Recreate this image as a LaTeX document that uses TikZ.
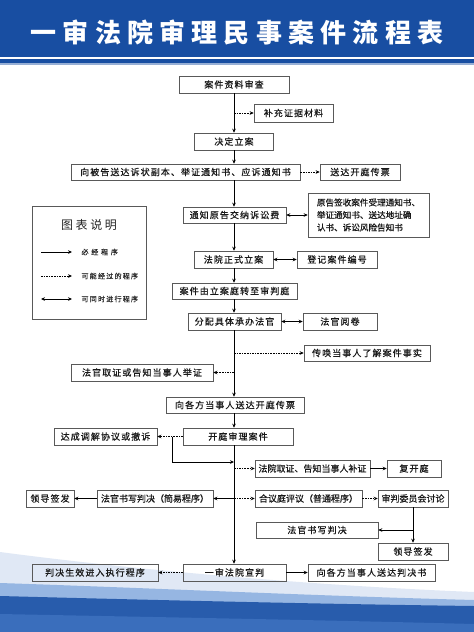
\documentclass[tikz,border=0pt]{standalone}
\usepackage{fontspec}
\usepackage{tikz}
\usetikzlibrary{arrows.meta}
\newfontfamily\boxfont[LetterSpace=12,FakeBold=0.5]{Noto Sans CJK SC}
\newfontfamily\tightfont[LetterSpace=0,FakeBold=0.5]{Noto Sans CJK SC}
\newfontfamily\titlefont[LetterSpace=24]{Noto Sans CJK SC}
\newfontfamily\keyfont[LetterSpace=18,FakeBold=0.3]{Noto Sans CJK SC}
\newfontfamily\keyhead[LetterSpace=22]{Noto Sans CJK SC}
\definecolor{courtblue}{RGB}{24,78,162}
\definecolor{waveA}{RGB}{224,232,245}
\definecolor{waveB}{RGB}{150,182,226}
\definecolor{waveC}{RGB}{40,92,172}
\definecolor{waveD}{RGB}{58,110,188}

\begin{document}
\begin{tikzpicture}[
  x=1pt, y=-1pt,
  box/.style={draw=black!65, line width=0.6pt, inner sep=0pt, minimum height=17pt, font=\fontsize{9}{10}\boxfont, text=black!90},
  tight/.style={font=\fontsize{9}{10}\tightfont},
  arr/.style={-{Stealth[length=4pt,width=3.6pt]}, line width=0.9pt},
  maybe/.style={arr, dash pattern=on 1.6pt off 1pt},
  both/.style={{Stealth[length=4pt,width=3.6pt]}-{Stealth[length=4pt,width=3.6pt]}, line width=0.9pt},
  keytext/.style={anchor=west, font=\fontsize{7}{8}\keyfont, text=black!85},
]
\useasboundingbox (0,0) rectangle (474,632);
\fill[white] (0,0) rectangle (474,632);
\fill[courtblue] (0,0) rectangle (474,57);
\fill[courtblue] (0,59.3) rectangle (474,63.3);
\fill[courtblue!45] (0,63.3) rectangle (474,65.3);
\node[font=\fontsize{26}{26}\titlefont\bfseries, text=white] (title) at (237,33) {一审法院审理民事案件流程表};

\fill[waveA] (0,552) .. controls (120,568) and (300,585) .. (474,592) -- (474,632) -- (0,632) -- cycle;
\fill[waveB] (0,583) .. controls (150,588) and (320,596) .. (474,600) -- (474,632) -- (0,632) -- cycle;
\fill[waveC] (0,596) .. controls (150,600) and (320,604) .. (474,606) -- (474,632) -- (0,632) -- cycle;
\fill[waveD] (0,614) .. controls (150,617) and (320,620) .. (474,624) -- (474,632) -- (0,632) -- cycle;

\coordinate (mx) at (234,0);
\node[box, minimum width=110pt] (chk) at (234,84.5) {案件资料审查};
\node[box, minimum width=79pt, minimum height=18pt] (sup) at (293.5,113) {补充证据材料};
\node[box, minimum width=79pt] (file) at (234,141.5) {决定立案};
\node[box, minimum width=229pt, minimum height=16pt] (serve) at (185.5,172) {向被告送达诉状副本、举证通知书、应诉通知书};
\node[box, minimum width=80pt, minimum height=16pt] (summ) at (360,172) {送达开庭传票};
\node[box, minimum width=103pt, minimum height=16pt] (fee) at (234.5,215) {通知原告交纳诉讼费};
\node[box, minimum width=121pt, minimum height=44pt, align=left, font=\fontsize{8.6}{12.5}\tightfont] (sign) at (368.5,215) {原告签收案件受理通知书、\\举证通知书、送达地址确\\认书、诉讼风险告知书};
\node[box, minimum width=79pt] (accept) at (233.5,259.5) {法院正式立案};
\node[box, minimum width=80pt] (reg) at (337,259.5) {登记案件编号};
\node[box, minimum width=125pt, minimum height=16pt] (move) at (234.5,291) {案件由立案庭转至审判庭};
\node[box, minimum width=93pt] (judge) at (234.5,321.5) {分配具体承办法官};
\node[box, minimum width=74pt] (read) at (340,321.5) {法官阅卷};
\node[box, minimum width=126pt, minimum height=16pt] (call) at (367,353) {传唤当事人了解案件事实};
\node[box, minimum width=142pt] (proof) at (142,372.5) {法官取证或告知当事人举证};
\node[box, minimum width=138pt, minimum height=16pt] (notice) at (235,405) {向各方当事人送达开庭传票};
\node[box, minimum width=110pt] (trial) at (238,436.5) {开庭审理案件};
\node[box, minimum width=103pt] (settle) at (105.5,436.5) {达成调解协议或撤诉};
\node[box, tight, minimum width=115pt] (extra) at (312.5,468.5) {法院取证、告知当事人补证};
\node[box, minimum width=54pt] (retrial) at (414,468.5) {复开庭};
\node[box, minimum width=48pt] (signL) at (50,498.5) {领导签发};
\node[box, tight, minimum width=116pt] (simple) at (155,498.5) {法官书写判决（简易程序）};
\node[box, tight, minimum width=107pt] (panel) at (308.5,498.5) {合议庭评议（普通程序）};
\node[box, tight, minimum width=70pt] (comm) at (413,498.5) {审判委员会讨论};
\node[box, minimum width=122pt, minimum height=16pt] (write) at (317,530) {法官书写判决};
\node[box, minimum width=70pt] (signR) at (413,551.5) {领导签发};
\node[box, minimum width=103pt] (verdict) at (234.5,572.5) {一审法院宣判};
\node[box, minimum width=126pt] (exec) at (95,572.5) {判决生效进入执行程序};
\node[box, minimum width=127pt] (deliver) at (371.5,572.5) {向各方当事人送达判决书};

\draw[arr] (chk.south) -- (file.north);
\draw[maybe] (chk.south |- sup.west) -- (sup.west);
\draw[arr] (mx |- file.south) -- (mx |- serve.north);
\draw[maybe] (serve.east) -- (summ.west);
\draw[arr] (mx |- serve.south) -- (mx |- fee.north);
\draw[both] (fee.east) -- (sign.west);
\draw[arr] (mx |- fee.south) -- (mx |- accept.north);
\draw[both] (accept.east) -- (reg.west);
\draw[arr] (mx |- accept.south) -- (mx |- move.north);
\draw[arr] (mx |- move.south) -- (mx |- judge.north);
\draw[both] (judge.east) -- (read.west);
\draw[arr] (mx |- judge.south) -- (mx |- notice.north);
\draw[maybe] (mx |- call.west) -- (call.west);
\draw[maybe] (mx |- proof.east) -- (proof.east);
\draw[arr] (mx |- notice.south) -- (mx |- trial.north);
\draw[maybe] (trial.west) -- (settle.east);
\coordinate (fork) at (172,436.5);
\coordinate (rejoin) at (234,462);
\draw[arr] (fork) |- (rejoin);
\draw[arr] (mx |- trial.south) -- (mx |- verdict.north);
\draw[maybe] (mx |- extra.west) -- (extra.west);
\draw[arr] (extra.east) -- (retrial.west);
\draw[arr] (mx |- simple.east) -- (simple.east);
\draw[arr] (simple.west) -- (signL.east);
\draw[maybe] (mx |- panel.west) -- (panel.west);
\draw[maybe] (panel.east) -- (comm.west);
\draw[arr] (comm.south) -- (signR.north);
\draw[arr] (comm.south |- write.east) -- (write.east);
\draw[maybe] (verdict.west) -- (exec.east);
\draw[arr] (verdict.east) -- (deliver.west);

\node[draw=black!65, line width=0.6pt, minimum width=114pt, minimum height=113pt] (key) at (89,262.5) {};
\node[font=\fontsize{12}{12}\keyhead, text=black!85] (keytitle) at (89,225) {图表说明};
\coordinate (k1a) at (41,252); \coordinate (k1b) at (72,252);
\coordinate (k2a) at (41,276); \coordinate (k2b) at (72,276);
\coordinate (k3a) at (41,299); \coordinate (k3b) at (72,299);
\draw[arr] (k1a) -- (k1b);
\draw[maybe] (k2a) -- (k2b);
\draw[both] (k3a) -- (k3b);
\node[keytext, font=\fontsize{7}{8}\keyfont\addfontfeatures{LetterSpace=40}] (k1) at (78,252) {必经程序};
\node[keytext] (k2) at (78,276) {可能经过的程序};
\node[keytext] (k3) at (78,299) {可同时进行程序};
\end{tikzpicture}
\end{document}
